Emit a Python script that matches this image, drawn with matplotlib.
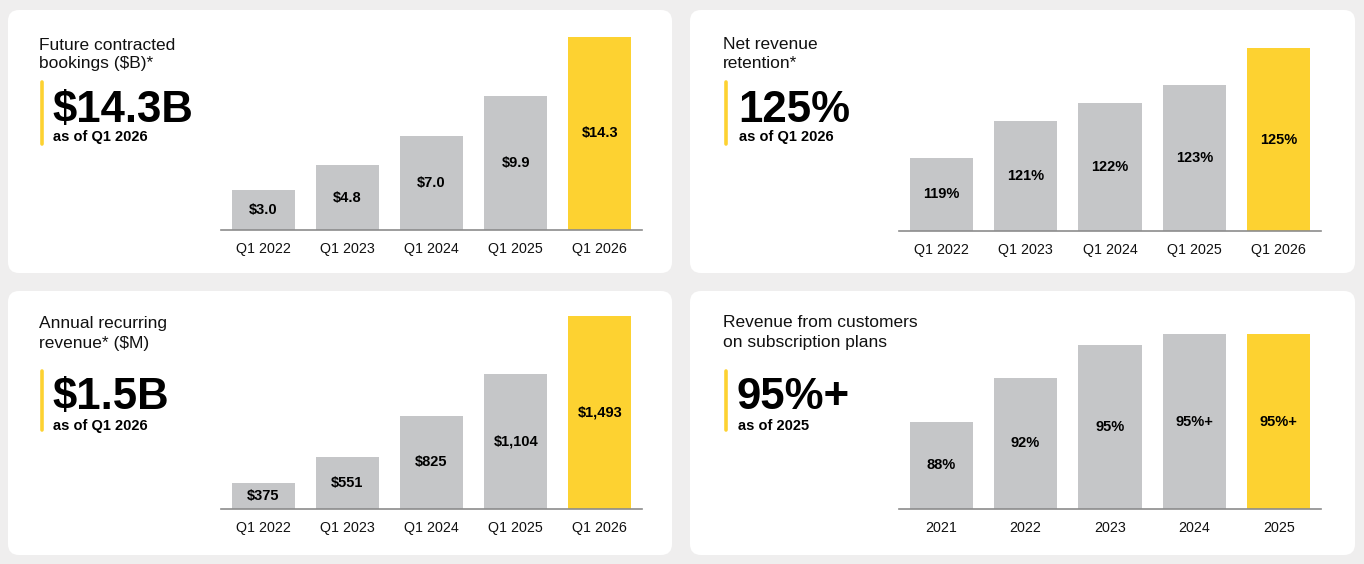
import matplotlib
matplotlib.use("Agg")
import matplotlib.pyplot as plt
from matplotlib.patches import FancyBboxPatch
from matplotlib.lines import Line2D

plt.rcParams['font.family'] = ['Liberation Sans', 'DejaVu Sans']

# ---------------- data ----------------
quarters = ["Q1 2022", "Q1 2023", "Q1 2024", "Q1 2025", "Q1 2026"]
years = ["2021", "2022", "2023", "2024", "2025"]

bookings = [3.0, 4.8, 7.0, 9.9, 14.3]
bookings_labels = ["$3.0", "$4.8", "$7.0", "$9.9", "$14.3"]

nrr = [119, 121, 122, 123, 125]
nrr_labels = ["119%", "121%", "122%", "123%", "125%"]

arr = [375, 551, 825, 1104, 1493]
arr_labels = ["$375", "$551", "$825", "$1,104", "$1,493"]

subs = [88, 92, 95, 96, 96]
subs_labels = ["88%", "92%", "95%", "95%+", "95%+"]

titles = [["Future contracted", "bookings ($B)*"],
          ["Net revenue", "retention*"],
          ["Annual recurring", "revenue* ($M)"],
          ["Revenue from customers", "on subscription plans"]]
headlines = ["$14.3B", "125%", "$1.5B", "95%+"]
subheads = ["as of Q1 2026", "as of Q1 2026", "as of Q1 2026", "as of 2025"]

# ---------------- style ----------------
W, H = 1364, 564
BG = "#efeeee"
GRAY = "#c5c6c8"
YELLOW = "#fdd231"
TXT = "#111111"
AXLINE = "#8c8c8c"

fig = plt.figure(figsize=(W / 100, H / 100), dpi=100, facecolor=BG)
bg = fig.add_axes([0, 0, 1, 1])
bg.set_xlim(0, W)
bg.set_ylim(H, 0)
bg.axis("off")
bg.set_facecolor(BG)

panels = [(8, 10, 664, 263), (690, 10, 665, 263), (8, 291, 664, 264), (690, 291, 665, 264)]
for (x, y, w, h) in panels:
    bg.add_patch(FancyBboxPatch((x, y), w, h, boxstyle="round,pad=0,rounding_size=11",
                                facecolor="white", edgecolor="none", zorder=0))

# text layout per panel (pixel coords)
layout = [
    dict(tx=39, t1=50, t2=68, barx=42, bar=(82, 144), hx=53, hb=122, sb=141),
    dict(tx=723, t1=49, t2=68, barx=726, bar=(82, 144), hx=739, hb=122, sb=141),
    dict(tx=39, t1=328, t2=348, barx=42, bar=(371, 430), hx=53, hb=409, sb=430),
    dict(tx=723, t1=327, t2=347, barx=726, bar=(371, 430), hx=738, hb=409, sb=430),
]

for i, L in enumerate(layout):
    bg.text(L["tx"], L["t1"], titles[i][0], fontsize=12.5, color=TXT, va="baseline", ha="left")
    bg.text(L["tx"], L["t2"], titles[i][1], fontsize=12.5, color=TXT, va="baseline", ha="left")
    bg.add_line(Line2D([L["barx"], L["barx"]], [L["bar"][0], L["bar"][1]], color=YELLOW,
                       lw=2.6, solid_capstyle="round", zorder=2))
    bg.text(L["hx"] - 1, L["hb"], headlines[i], fontsize=31.5, fontweight="bold", color="black",
            va="baseline", ha="left")
    bg.text(L["hx"], L["sb"], subheads[i], fontsize=10.5, fontweight="bold", color="black",
            va="baseline", ha="left")

# ---------------- bar charts ----------------
charts = [
    dict(box=(221, 642, 230, 37), lim=(0, 14.3), vals=bookings, labs=bookings_labels, cats=quarters),
    dict(box=(899, 1321, 231, 48), lim=(115, 125), vals=nrr, labs=nrr_labels, cats=quarters),
    dict(box=(221, 642, 509, 316), lim=(200, 1493), vals=arr, labs=arr_labels, cats=quarters),
    dict(box=(899, 1321, 509, 334), lim=(80, 96), vals=subs, labs=subs_labels, cats=years),
]

for c in charts:
    x0, x1, yb, yt = c["box"]
    ax = fig.add_axes([x0 / W, 1 - yb / H, (x1 - x0) / W, (yb - yt) / H])
    ax.patch.set_alpha(0)
    n = len(c["vals"])
    colors = [GRAY] * (n - 1) + [YELLOW]
    xs = list(range(n))
    ax.bar(xs, c["vals"], width=0.75, color=colors, zorder=2)
    ax.set_xlim(-0.5, n - 0.5)
    ax.set_ylim(*c["lim"])
    lo = c["lim"][0]
    for xi, v, lab in zip(xs, c["vals"], c["labs"]):
        ax.text(xi, (lo + v) / 2, lab, ha="center", va="center", fontsize=10.5,
                fontweight="bold", color="black", zorder=3)
    ax.set_xticks(xs)
    ax.set_xticklabels(c["cats"], fontsize=10.3, color=TXT)
    ax.tick_params(axis="x", length=0, pad=8.5)
    ax.set_yticks([])
    for s in ["left", "right", "top"]:
        ax.spines[s].set_visible(False)
    ax.spines["bottom"].set_color(AXLINE)
    ax.spines["bottom"].set_linewidth(1.2)
    ax.spines["bottom"].set_zorder(4)

fig.savefig("out.png", dpi=100, facecolor=BG)
